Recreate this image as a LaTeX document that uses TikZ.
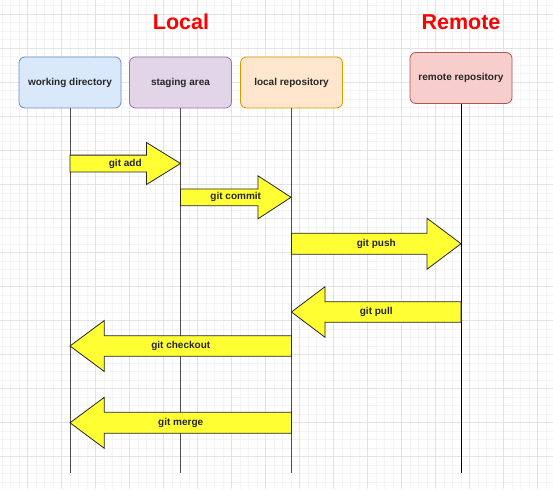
\documentclass[tikz,border=0pt]{standalone}
\usepackage{fontspec}
\setmainfont{Liberation Sans}
\usetikzlibrary{calc}
\definecolor{gridminor}{HTML}{F3F3F3}
\definecolor{gridmajor}{HTML}{E3E3E3}
\definecolor{wdfill}{HTML}{DAE8FC}\definecolor{wddraw}{HTML}{6C8EBF}
\definecolor{safill}{HTML}{E1D5E7}\definecolor{sadraw}{HTML}{9673A6}
\definecolor{lrfill}{HTML}{FFE6CC}\definecolor{lrdraw}{HTML}{D79B00}
\definecolor{rrfill}{HTML}{F8CECC}\definecolor{rrdraw}{HTML}{B85450}
\definecolor{arrfill}{HTML}{FFFF33}
\definecolor{titlered}{HTML}{FF0000}
\definecolor{lifegray}{HTML}{4D4D4D}
\tikzset{
  x=1pt, y=-1pt,
  boxstyle/.style={rounded corners=6pt, minimum width=102pt, minimum height=51pt, line width=0.8pt, font=\fontsize{10}{12}\selectfont\bfseries, text=black!85},
  titlestyle/.style={font=\fontsize{21.5}{24}\selectfont\bfseries, text=titlered, anchor=base},
  lifeline/.style={line width=1pt, draw=lifegray},
  fatarrow/.style={fill=arrfill, draw=black!85, line width=0.8pt, line join=miter},
  arrlabel/.style={font=\fontsize{10}{12}\selectfont\bfseries, text=black!85}
}
% #1 tail coord, #2 tip coord, #3 shaft half, #4 head half, #5 signed head length, #6 label, #7 name
\newcommand\gitarrow[7]{%
  \draw[fatarrow] ($(#1)+(0,-#3)$) -- ($(#2)+(-#5,-#3)$) -- ($(#2)+(-#5,-#4)$) -- (#2)
     -- ($(#2)+(-#5,#4)$) -- ($(#2)+(-#5,#3)$) -- ($(#1)+(0,#3)$) -- cycle;
  \node[arrlabel] (#7) at ($(#1)!0.5!(#2)$) {#6};
}
\begin{document}
\begin{tikzpicture}
\useasboundingbox (0,0) rectangle (553,489);
\fill[white] (0,0) rectangle (553,489);
\begin{scope}
\clip (0,0) rectangle (553,489);
\foreach \i in {0,...,66} {
  \draw[gridminor, line width=0.6pt] ({-6.7+8.5*\i},0) -- ({-6.7+8.5*\i},489);
}
\foreach \i in {0,...,60} {
  \draw[gridminor, line width=0.6pt] (0,{-19.7+8.5*\i}) -- (553,{-19.7+8.5*\i});
}
\foreach \i in {0,...,17} {
  \draw[gridmajor, line width=0.8pt] ({-6.7+34*\i},0) -- ({-6.7+34*\i},489);
}
\foreach \i in {0,...,15} {
  \draw[gridmajor, line width=0.8pt] (0,{-19.7+34*\i}) -- (553,{-19.7+34*\i});
}
\end{scope}

\node[titlestyle] (tlocal) at (181,30) {Local};
\node[titlestyle] (tremote) at (461,30) {Remote};

\node[boxstyle, fill=wdfill, draw=wddraw] (wd) at (70,82.5) {working directory};
\node[boxstyle, fill=safill, draw=sadraw] (sa) at (180.5,82.5) {staging area};
\node[boxstyle, fill=lrfill, draw=lrdraw] (lr) at (291.5,82.5) {local repository};
\node[boxstyle, fill=rrfill, draw=rrdraw] (rr) at (461,78) {remote repository};

\coordinate (wdend) at (70,473);
\coordinate (saend) at (180.5,473);
\coordinate (lrend) at (291.5,473);
\coordinate (rrend) at (461,473);

\draw[lifeline] (wd.south) -- (wdend);
\draw[lifeline] (sa.south) -- (saend);
\draw[lifeline] (lr.south) -- (lrend);
\draw[lifeline, draw=black] (rr.south) -- (rrend);

% arrow end points on the lifelines
\coordinate (addA) at (70,163.5);   \coordinate (addB) at (180.5,163.5);
\coordinate (comA) at (180.5,197.3); \coordinate (comB) at (291,197.3);
\coordinate (pushA) at (291.5,243.7); \coordinate (pushB) at (461,243.7);
\coordinate (pullA) at (461,312); \coordinate (pullB) at (291.5,312);
\coordinate (coA) at (291.5,346); \coordinate (coB) at (70,346);
\coordinate (meA) at (291.5,422.8); \coordinate (meB) at (70,422.8);

\gitarrow{addA}{addB}{8.4}{21}{34}{git add}{ladd}
\gitarrow{comA}{comB}{8.4}{21.5}{33}{git commit}{lcommit}
\gitarrow{pushA}{pushB}{10.5}{25.5}{34}{git push}{lpush}
\gitarrow{pullA}{pullB}{10.3}{25.3}{-33.5}{git pull}{lpull}
\gitarrow{coA}{coB}{10.2}{25.5}{-34.3}{git checkout}{lco}
\gitarrow{meA}{meB}{10.5}{25.5}{-34.3}{git merge}{lmerge}
\end{tikzpicture}
\end{document}
